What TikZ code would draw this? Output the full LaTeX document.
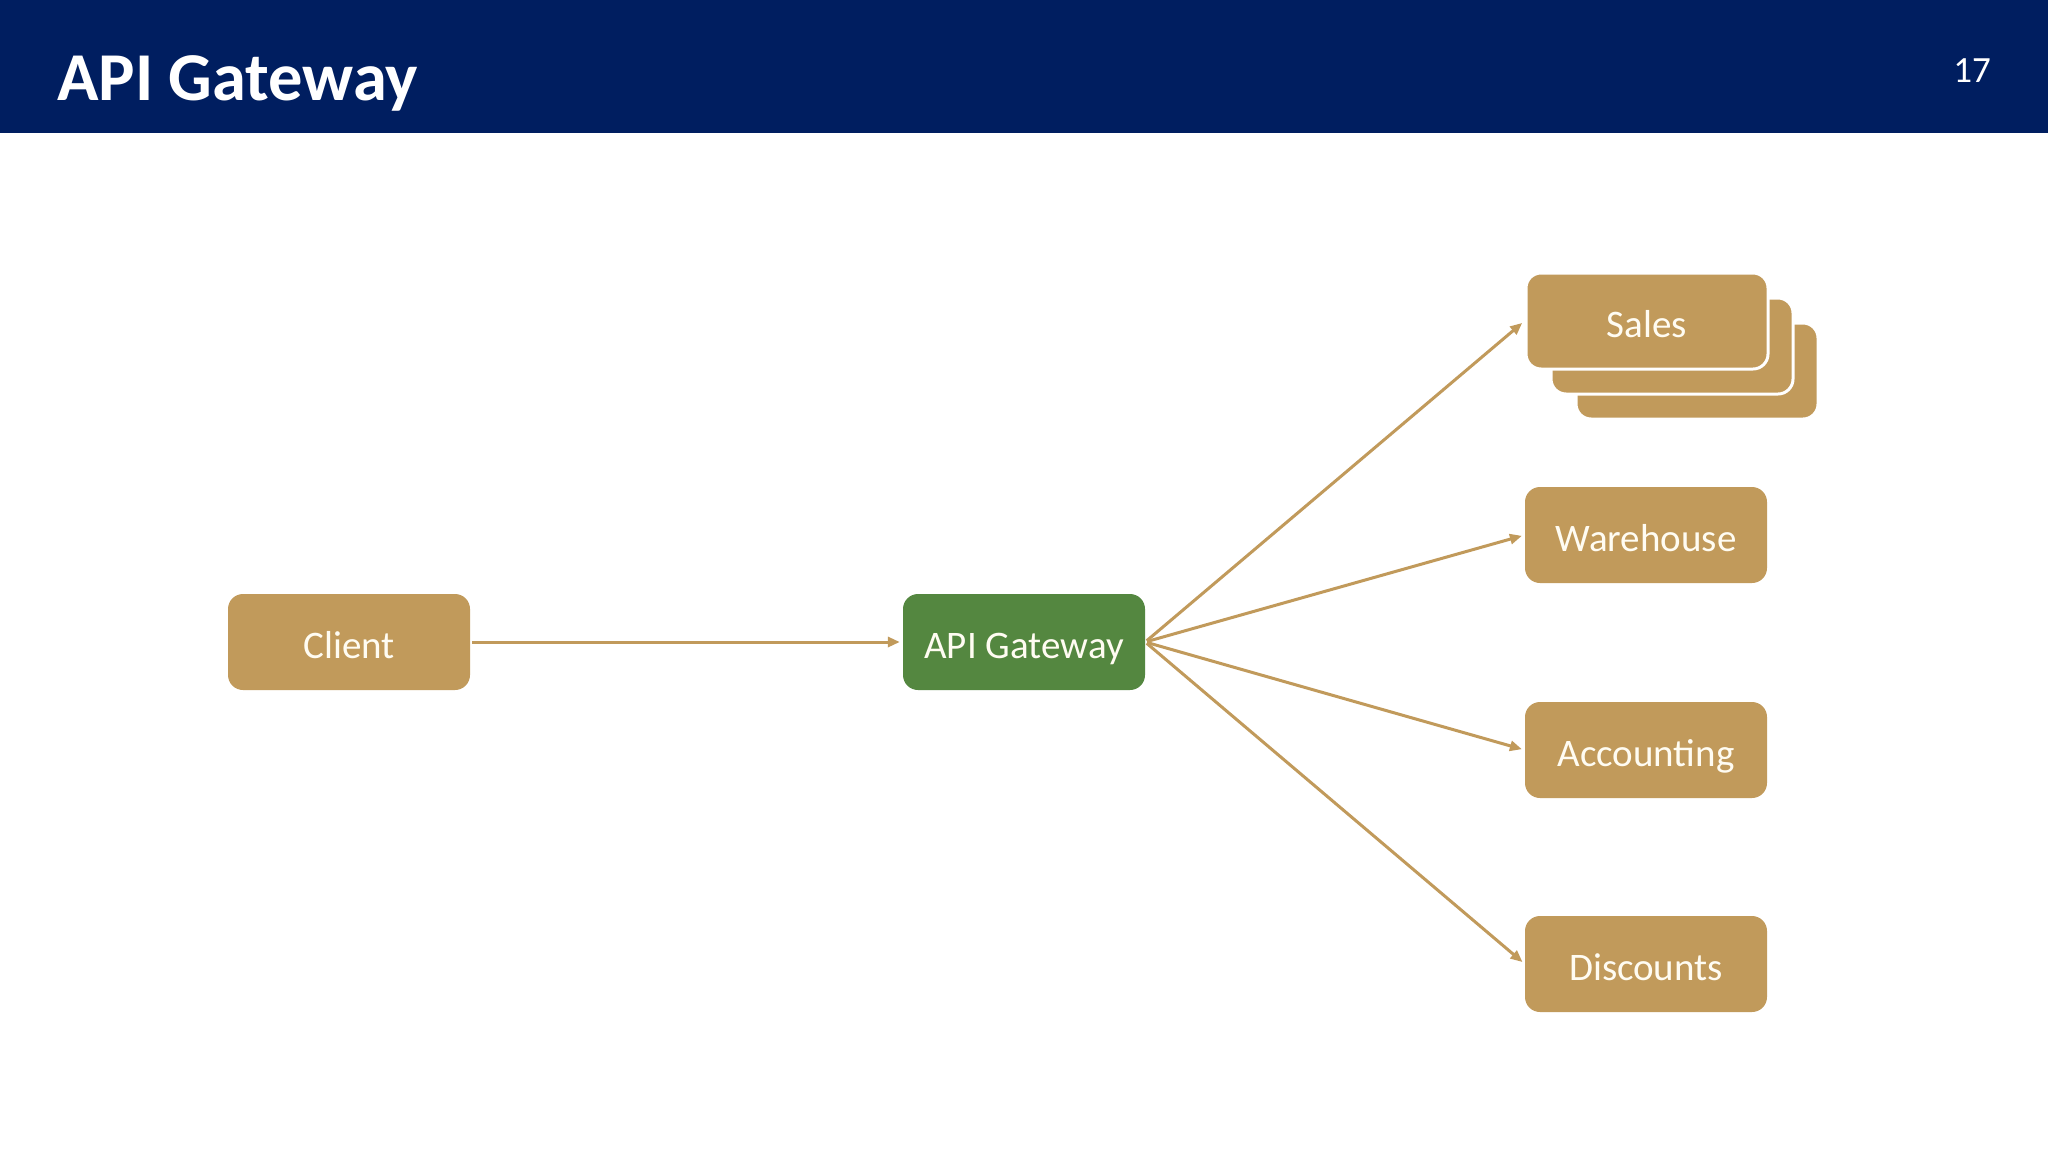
\documentclass[tikz,border=0pt]{standalone}
\usepackage{fontspec}
\setmainfont{Carlito}
\usetikzlibrary{arrows.meta}
\definecolor{hdr}{HTML}{001E60}
\definecolor{gold}{HTML}{C19A5B}
\definecolor{grn}{HTML}{548740}
\definecolor{txt}{HTML}{FFFCF2}
\tikzset{
  box/.style={rectangle, rounded corners=15pt, fill=gold, minimum width=242pt, minimum height=96pt, inner sep=0pt, text height=36pt, text depth=4pt, text=txt, font=\fontsize{39}{44}\selectfont},
  stackbox/.style={box, draw=white, line width=3pt},
  gwbox/.style={box, fill=grn},
  arr/.style={draw=gold, line width=3pt, -{Triangle[length=12pt,width=10pt]}, shorten >=3pt, shorten <=2pt},
}
\begin{document}
\begin{tikzpicture}[x=1pt,y=-1pt]
\useasboundingbox (0,0) rectangle (2048,1152);
\fill[white] (0,0) rectangle (2048,1152);
\fill[hdr] (0,0) rectangle (2048,133);
\node[anchor=base west, inner sep=0pt, text=white, font=\bfseries\fontsize{68.5}{72}\selectfont] (title) at (57,100) {API Gateway};
\node[anchor=base east, inner sep=0pt, text=white, font=\fontsize{37}{40}\selectfont] (page) at (1991,82) {17};

\node[box] (client) at (349,642) {Client};
\node[gwbox] (gw) at (1024,642) {API Gateway};

\node[stackbox] (sales3) at (1697,371) {};
\node[stackbox] (sales2) at (1672,346) {};
\node[stackbox] (sales) at (1647,321) {Sales};
\node[box] (warehouse) at (1646,535) {Warehouse};
\node[box] (accounting) at (1646,750) {Accounting};
\node[box] (discounts) at (1646,964) {Discounts};

\draw[arr] (client.east) -- (gw.west);
\draw[arr] (gw.east) -- (sales.west);
\draw[arr] (gw.east) -- (warehouse.west);
\draw[arr] (gw.east) -- (accounting.west);
\draw[arr] (gw.east) -- (discounts.west);
\end{tikzpicture}
\end{document}
